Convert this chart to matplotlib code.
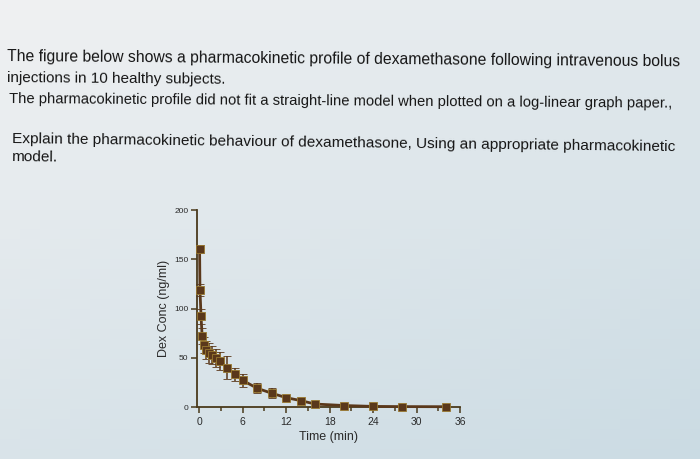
import numpy as np
import matplotlib
matplotlib.use("Agg")
from matplotlib import pyplot as plt
from matplotlib.ticker import MultipleLocator

# mean dexamethasone concentration after iv bolus
time_min = [0.05, 0.1, 0.25, 0.4, 0.6, 0.9, 1.3, 1.8, 2.3, 2.8, 3.8, 5.0,
            6.0, 8.0, 10.0, 12.0, 14.0, 16.0, 20.0, 24.0, 28.0, 34.0]
conc = [160, 119, 92, 72, 63, 58, 55, 53, 50, 47, 40, 33,
        27, 19, 14, 9.5, 6.5, 3.0, 1.5, 0.6, 0.4, 0.3]
conc_err = [4, 6, 8, 8, 8, 9, 10, 9, 9, 9, 12, 7,
            7, 5, 5, 2, 2, 1.5, 1, 0.5, 0.4, 0.3]

x_ticks = [0, 6, 12, 18, 24, 30, 36]
y_ticks = [0, 50, 100, 150, 200]

question = [
    "The figure below shows a pharmacokinetic profile of dexamethasone following intravenous bolus",
    "injections in 10 healthy subjects.",
    "The pharmacokinetic profile did not fit a straight-line model when plotted on a log-linear graph paper.,",
    "Explain the pharmacokinetic behaviour of dexamethasone, Using an appropriate pharmacokinetic\nmodel.",
]

plt.rcParams['font.family'] = ['Liberation Sans', 'DejaVu Sans']

W, H = 700, 459
fig = plt.figure(figsize=(W / 100, H / 100), dpi=100)

# photographed screen: light background, bluer towards the bottom right
bg = fig.add_axes([0, 0, 1, 1], zorder=-10)
gx, gy = np.meshgrid(np.linspace(0, 1, 70), np.linspace(0, 1, 46))
mix = np.clip(0.55 * gy + 0.35 * gx, 0, 1)[..., None]
top = np.array([0.94, 0.945, 0.95])
low = np.array([0.78, 0.85, 0.885])
bg.imshow(top * (1 - mix) + low * mix, aspect='auto', extent=[0, 1, 1, 0])
bg.set_axis_off()

# question text, slightly tilted like in the photo
rows = [(7, 57, -0.45, 11.3, 'center'), (7, 78, -0.45, 11, 'center'),
        (9, 99, -0.4, 10.6, 'center'), (12, 132, -0.7, 11.05, 'top')]
for line, (px, py, rot, fs, va) in zip(question, rows):
    fig.text(px / W, 1 - py / H, line, fontsize=fs, color='#161616',
             ha='left', va=va, rotation=rot, rotation_mode='anchor',
             linespacing=1.4)

ax = fig.add_axes([196.7 / W, 52 / H, 263.3 / W, 197 / H])
ax.patch.set_alpha(0)
axis_col = '#4a3a1c'
brown = '#5a381b'

ax.errorbar(time_min, conc, yerr=conc_err, color=brown, lw=2.0,
            marker='s', ms=6, mfc=brown, mec='#9a7a30', mew=0.6,
            ecolor=brown, elinewidth=1.1, capsize=3, capthick=1.1,
            clip_on=False, zorder=3)

ax.set_xlim(-0.35, 36)
ax.set_ylim(0, 200)
ax.set_xticks(x_ticks)
ax.set_yticks(y_ticks)
ax.xaxis.set_minor_locator(MultipleLocator(3))
for s in ['top', 'right']:
    ax.spines[s].set_visible(False)
for s in ['left', 'bottom']:
    ax.spines[s].set_color(axis_col)
    ax.spines[s].set_linewidth(1.3)
ax.tick_params(axis='both', which='major', length=4, width=1.1, color=axis_col,
               labelcolor='#2a2a2a', pad=2)
ax.tick_params(axis='x', which='major', labelsize=7.5, pad=3)
ax.tick_params(axis='y', which='major', labelsize=6)
ax.tick_params(axis='x', which='minor', length=3, width=1.1, color=axis_col)

ax.set_xlabel('Time (min)', fontsize=9, color='#2a2a2a', labelpad=3)
ax.set_ylabel('Dex Conc (ng/ml)', fontsize=9, color='#2a2a2a', labelpad=3)

fig.savefig('out.png', dpi=100)
